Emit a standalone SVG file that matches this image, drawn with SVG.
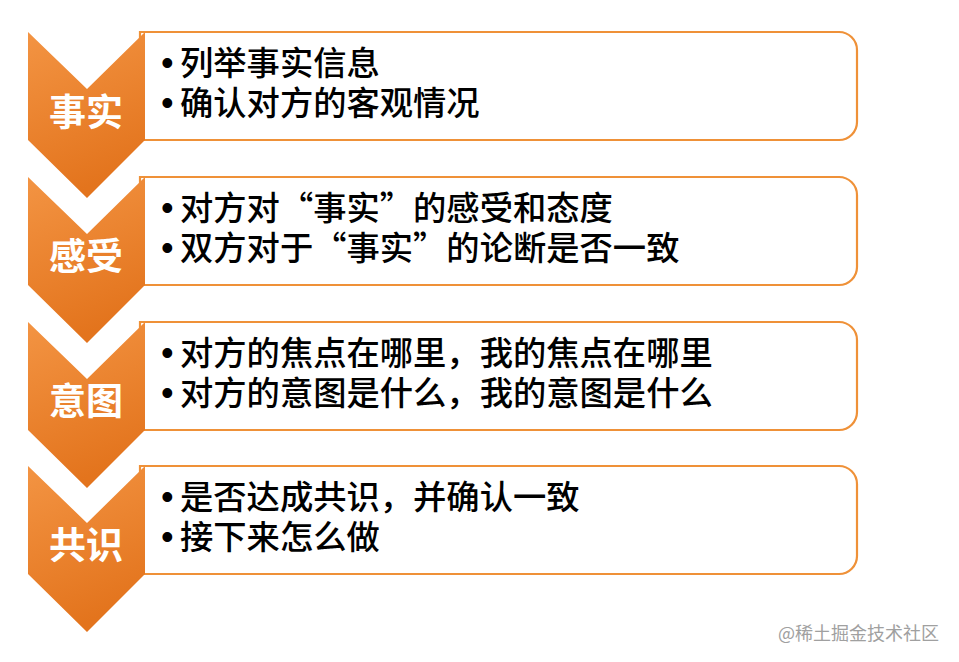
<svg xmlns="http://www.w3.org/2000/svg" width="959" height="662" viewBox="0 0 959 662">
<defs>
<linearGradient id="og" x1="0" y1="0" x2="0.3" y2="1">
<stop offset="0" stop-color="#F39443"/>
<stop offset="1" stop-color="#E3741D"/>
</linearGradient>
</defs>
<style>
.box{fill:#FFFFFF;stroke:#EF9138;stroke-width:2.2}
.chev{fill:url(#og)}
.lbl{font-family:"Noto Sans CJK SC","Liberation Sans",sans-serif;font-size:37px;font-weight:bold;fill:#FFFFFF;text-anchor:middle}
.txt{font-family:"Noto Sans CJK SC","Liberation Sans",sans-serif;font-size:33.3px;font-weight:500;fill:#000000}
.bul{font-family:"Liberation Sans",sans-serif;font-size:36px}
.wm{font-family:"Noto Sans CJK SC","Liberation Sans",sans-serif;font-size:18px;fill:#A0A0A0}
</style>
<rect width="959" height="662" fill="#FFFFFF"/>
<g id="step1">
<path class="box" d="M140,32 H839 A18,18 0 0 1 857,50 V122 A18,18 0 0 1 839,140 H140 Z"/>
<path class="chev" d="M28,32 L87,89 L145,32 L145,140 L87,198 L28,140 Z"/>
<text class="lbl" x="86" y="126">事实</text>
<text class="txt" y="75"><tspan class="bul" x="161">•</tspan><tspan x="180">列举事实信息</tspan></text>
<text class="txt" y="115"><tspan class="bul" x="161">•</tspan><tspan x="180">确认对方的客观情况</tspan></text>
</g>
<g id="step2">
<path class="box" d="M140,177 H839 A18,18 0 0 1 857,195 V267 A18,18 0 0 1 839,285 H140 Z"/>
<path class="chev" d="M28,177 L87,234 L145,177 L145,285 L87,343 L28,285 Z"/>
<text class="lbl" x="86" y="270">感受</text>
<text class="txt" y="220"><tspan class="bul" x="161">•</tspan><tspan x="180">对方对“事实”的感受和态度</tspan></text>
<text class="txt" y="260"><tspan class="bul" x="161">•</tspan><tspan x="180">双方对于“事实”的论断是否一致</tspan></text>
</g>
<g id="step3">
<path class="box" d="M140,322 H839 A18,18 0 0 1 857,340 V412 A18,18 0 0 1 839,430 H140 Z"/>
<path class="chev" d="M28,322 L87,379 L145,322 L145,430 L87,488 L28,430 Z"/>
<text class="lbl" x="86" y="415">意图</text>
<text class="txt" y="365"><tspan class="bul" x="161">•</tspan><tspan x="180">对方的焦点在哪里，我的焦点在哪里</tspan></text>
<text class="txt" y="405"><tspan class="bul" x="161">•</tspan><tspan x="180">对方的意图是什么，我的意图是什么</tspan></text>
</g>
<g id="step4">
<path class="box" d="M140,466 H839 A18,18 0 0 1 857,484 V556 A18,18 0 0 1 839,574 H140 Z"/>
<path class="chev" d="M28,466 L87,523 L145,466 L145,574 L87,632 L28,574 Z"/>
<text class="lbl" x="86" y="559">共识</text>
<text class="txt" y="509"><tspan class="bul" x="161">•</tspan><tspan x="180">是否达成共识，并确认一致</tspan></text>
<text class="txt" y="549"><tspan class="bul" x="161">•</tspan><tspan x="180">接下来怎么做</tspan></text>
</g>
<g id="connectors"></g>
<text class="wm" x="778" y="640">@稀土掘金技术社区</text>
</svg>
